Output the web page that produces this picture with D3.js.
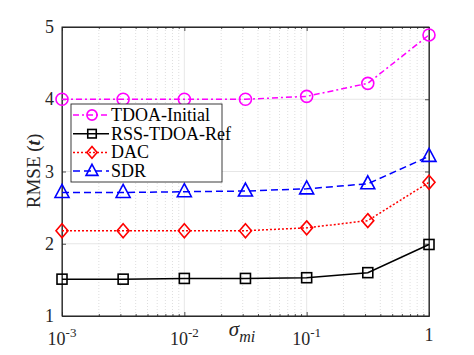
<!DOCTYPE html>
<html><head><meta charset="utf-8">
<script src="https://cdn.jsdelivr.net/npm/d3@7"></script>
<style>body{margin:0;background:#fff}svg{display:block}svg text{font-family:'Liberation Serif','Times New Roman',Times,serif}</style>
</head><body>
<svg id="c" width="474" height="355"></svg>
<script>
const xValues = [0.001, 0.00316, 0.01, 0.0316, 0.1, 0.316, 1];
const tdoaInitial = [4.00, 4.00, 4.00, 4.00, 4.04, 4.22, 4.89];
const rssTdoaRef = [1.51, 1.51, 1.52, 1.52, 1.53, 1.60, 1.99];
const dac = [2.18, 2.18, 2.18, 2.18, 2.22, 2.32, 2.85];
const sdr = [2.71, 2.71, 2.72, 2.73, 2.76, 2.83, 3.21];
const xTicks = [0.001, 0.01, 0.1, 1];
const xTickExp = ["-3", "-2", "-1", ""];
const yTicks = [1, 2, 3, 4, 5];
const seriesNames = ["TDOA-Initial", "RSS-TDOA-Ref", "DAC", "SDR"];

const svg = d3.select("#c");
const L = 62, R = 429, T = 27, B = 316;
const x = d3.scaleLog().domain([0.001, 1]).range([L, R]);
const y = d3.scaleLinear().domain([1, 5]).range([B, T]);
const axisCol = "#262626";

const minor = [];
for (let e = -3; e < 0; e++) for (let m = 2; m <= 9; m++) minor.push(m * Math.pow(10, e));
svg.append("g").selectAll("line").data(minor).join("line")
  .attr("x1", d => x(d)).attr("x2", d => x(d)).attr("y1", T).attr("y2", B)
  .attr("stroke", "#d6d6d6").attr("stroke-width", 0.8).attr("stroke-dasharray", "1,2");
svg.append("g").selectAll("line").data(xTicks).join("line")
  .attr("x1", d => x(d)).attr("x2", d => x(d)).attr("y1", T).attr("y2", B)
  .attr("stroke", "#e0e0e0").attr("stroke-width", 0.8);
svg.append("g").selectAll("line").data(yTicks).join("line")
  .attr("x1", L).attr("x2", R).attr("y1", d => y(d)).attr("y2", d => y(d))
  .attr("stroke", "#e0e0e0").attr("stroke-width", 0.8);

const gx = svg.append("g").attr("transform", `translate(0,${B})`)
  .call(d3.axisBottom(x).tickValues(xTicks).tickSizeInner(-4).tickSizeOuter(0).tickFormat(""));
const gxm = svg.append("g").attr("transform", `translate(0,${B})`)
  .call(d3.axisBottom(x).tickValues(minor).tickSizeInner(-2).tickSizeOuter(0).tickFormat(""));
const gxt = svg.append("g").attr("transform", `translate(0,${T})`)
  .call(d3.axisTop(x).tickValues(xTicks).tickSizeInner(-4).tickSizeOuter(0).tickFormat(""));
const gxtm = svg.append("g").attr("transform", `translate(0,${T})`)
  .call(d3.axisTop(x).tickValues(minor).tickSizeInner(-2).tickSizeOuter(0).tickFormat(""));
const gy = svg.append("g").attr("transform", `translate(${L},0)`)
  .call(d3.axisLeft(y).tickValues(yTicks).tickSizeInner(-4).tickSizeOuter(0).tickFormat(""));
const gyr = svg.append("g").attr("transform", `translate(${R},0)`)
  .call(d3.axisRight(y).tickValues(yTicks).tickSizeInner(-4).tickSizeOuter(0).tickFormat(""));
[gx, gxm, gxt, gxtm, gy, gyr].forEach(g => {
  g.selectAll("path,line").attr("stroke", axisCol).attr("stroke-width", 0.8);
});
svg.append("rect").attr("x", L).attr("y", T).attr("width", R - L).attr("height", B - T)
  .attr("fill", "none").attr("stroke", axisCol).attr("stroke-width", 1);

svg.append("g").selectAll("text").data(yTicks).join("text")
  .attr("x", L - 8).attr("y", d => y(d) + 6).attr("text-anchor", "end")
  .attr("font-size", 18).attr("fill", axisCol).text(d => d);
const xl = svg.append("g").selectAll("text").data(xTicks).join("text")
  .attr("x", d => x(d)).attr("y", 345).attr("text-anchor", "middle")
  .attr("font-size", 18).attr("fill", axisCol);
xl.each(function(d, i) {
  const t = d3.select(this);
  if (xTickExp[i] === "") { t.attr("y", 341).text("1"); return; }
  t.append("tspan").text("10");
  t.append("tspan").attr("dy", -8).attr("font-size", 13).text(xTickExp[i]);
});

const xt = svg.append("text").attr("x", 242).attr("y", 336).attr("text-anchor", "middle")
  .attr("font-size", 21).attr("fill", axisCol).attr("font-style", "italic");
xt.append("tspan").text("σ");
xt.append("tspan").attr("dy", 6).attr("font-size", 16).text("mi");
const yt = svg.append("text").attr("transform", "translate(40,171) rotate(-90)").attr("text-anchor", "middle")
  .attr("font-size", 19).attr("fill", axisCol);
yt.append("tspan").text("RMSE (");
yt.append("tspan").attr("font-style", "italic").attr("font-weight", "bold").text("t");
yt.append("tspan").text(")");

const series = [
  {name: seriesNames[0], vals: tdoaInitial, color: "#ff00ff", dash: "6,3,2,3", marker: "circle"},
  {name: seriesNames[1], vals: rssTdoaRef, color: "#000000", dash: null, marker: "square"},
  {name: seriesNames[2], vals: dac, color: "#ff0000", dash: "2,2", marker: "diamond"},
  {name: seriesNames[3], vals: sdr, color: "#0000ff", dash: "7,4", marker: "triangle"}
];
const line = d3.line().x(d => x(d[0])).y(d => y(d[1]));
function drawMarker(g, type, cx, cy, color, k) {
  k = k || 1;
  if (type === "circle") g.append("circle").attr("cx", cx).attr("cy", cy).attr("r", 6 * k)
    .attr("fill", "none").attr("stroke", color).attr("stroke-width", 1.6);
  else if (type === "square") g.append("rect").attr("x", cx - 5 * k).attr("y", cy - 5 * k).attr("width", 10 * k).attr("height", 10 * k)
    .attr("fill", "none").attr("stroke", color).attr("stroke-width", 1.6);
  else if (type === "diamond") g.append("path").attr("d", `M${cx},${cy-7*k}L${cx+6*k},${cy}L${cx},${cy+7*k}L${cx-6*k},${cy}Z`)
    .attr("fill", "none").attr("stroke", color).attr("stroke-width", 1.6);
  else if (type === "triangle") g.append("path").attr("d", `M${cx},${cy-8*k}L${cx+7*k},${cy+5*k}L${cx-7*k},${cy+5*k}Z`)
    .attr("fill", "none").attr("stroke", color).attr("stroke-width", 1.6);
}
series.forEach(s => {
  const pts = xValues.map((xv, i) => [xv, s.vals[i]]);
  svg.append("path").datum(pts).attr("d", line).attr("fill", "none")
    .attr("stroke", s.color).attr("stroke-width", 1.5).attr("stroke-dasharray", s.dash);
  const g = svg.append("g");
  pts.forEach(p => drawMarker(g, s.marker, x(p[0]), y(p[1]), s.color));
});

const lx = 71, ly = 104, lw = 151, lh = 78;
svg.append("rect").attr("x", lx).attr("y", ly).attr("width", lw).attr("height", lh)
  .attr("fill", "#fff").attr("stroke", axisCol).attr("stroke-width", 0.9);
series.forEach((s, i) => {
  const cy = ly + 11 + i * 18.7;
  svg.append("line").attr("x1", lx + 2).attr("x2", lx + 38).attr("y1", cy).attr("y2", cy)
    .attr("stroke", s.color).attr("stroke-width", 1.5).attr("stroke-dasharray", s.dash);
  const g = svg.append("g");
  drawMarker(g, s.marker, lx + 21, cy, s.color, 0.85);
  svg.append("text").attr("x", lx + 40).attr("y", cy + 6)
    .attr("font-size", 18).attr("fill", "#000").text(s.name);
});
</script>
</body></html>
